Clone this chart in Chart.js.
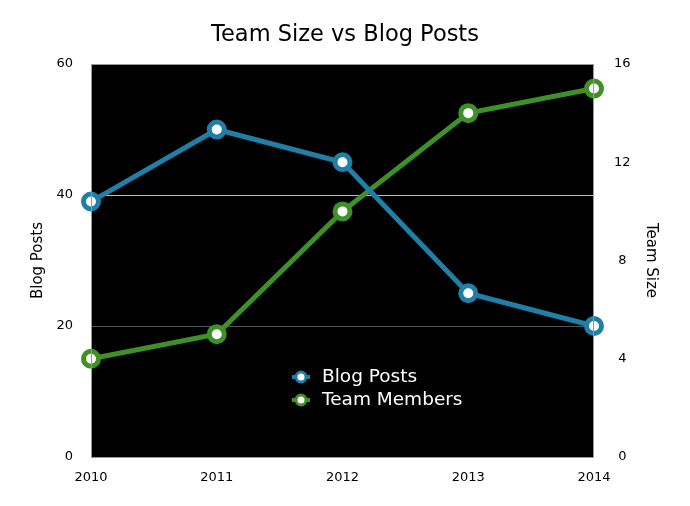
<!DOCTYPE html>
<html>
<head>
<meta charset="utf-8">
<script src="https://cdn.jsdelivr.net/npm/chart.js@4"></script>
<style>
  html, body { margin: 0; padding: 0; background: #fff; }
  #wrap { width: 690px; height: 506px; }
</style>
</head>
<body>
<div id="wrap"><canvas id="chart" width="690" height="506"></canvas></div>
<script>
// dados do gráfico
const anos = ['2010', '2011', '2012', '2013', '2014'];
const blogPosts = [39, 50, 45, 25, 20];
const teamMembers = [4, 5, 10, 14, 15];
const ticksPosts = [0, 20, 40, 60];
const ticksTeam = [0, 4, 8, 12, 16];

const AZUL = '#1f7fa6';
const VERDE = '#3e9127';
const FONTE = '"DejaVu Sans", sans-serif';

// fundo preto e borda cinza da área do gráfico
const fundoPlugin = {
  id: 'fundo',
  beforeDraw(chart) {
    const { ctx, chartArea: a } = chart;
    ctx.save();
    ctx.fillStyle = '#000';
    ctx.fillRect(a.left, a.top, a.right - a.left, a.bottom - a.top);
    ctx.restore();
  },
  afterDatasetsDraw(chart) {
    const { ctx, chartArea: a } = chart;
    ctx.save();
    ctx.strokeStyle = '#999';
    ctx.lineWidth = 1;
    ctx.strokeRect(a.left + 0.5, a.top + 0.5, a.right - a.left - 1, a.bottom - a.top);
    ctx.restore();
  }
};

// legenda desenhada dentro da área
const legendaPlugin = {
  id: 'legendaInterna',
  afterDraw(chart) {
    const { ctx } = chart;
    ctx.save();
    ctx.font = '18.5px ' + FONTE;
    ctx.textBaseline = 'middle';
    chart.data.datasets.forEach((ds, i) => {
      const y = 377 + i * 23;
      const x = 301;
      ctx.strokeStyle = ds.borderColor;
      ctx.lineWidth = 4;
      ctx.beginPath();
      ctx.moveTo(x - 9, y);
      ctx.lineTo(x + 9, y);
      ctx.stroke();
      ctx.beginPath();
      ctx.arc(x, y, 5, 0, Math.PI * 2);
      ctx.fillStyle = '#fff';
      ctx.fill();
      ctx.lineWidth = 3;
      ctx.stroke();
      ctx.fillStyle = '#fff';
      ctx.fillText(ds.label, 322, y);
    });
    ctx.restore();
  }
};

new Chart(document.getElementById('chart'), {
  type: 'line',
  data: {
    labels: anos,
    datasets: [{
      label: 'Blog Posts',
      data: blogPosts,
      yAxisID: 'y',
      borderColor: AZUL,
      backgroundColor: '#fff',
      borderWidth: 5,
      pointRadius: 7.5,
      pointBorderWidth: 5,
      pointBackgroundColor: '#fff',
      pointBorderColor: AZUL,
      clip: false
    }, {
      label: 'Team Members',
      data: teamMembers,
      yAxisID: 'y1',
      borderColor: VERDE,
      backgroundColor: '#fff',
      borderWidth: 5,
      pointRadius: 7.5,
      pointBorderWidth: 5,
      pointBackgroundColor: '#fff',
      pointBorderColor: VERDE,
      clip: false
    }]
  },
  options: {
    responsive: false,
    animation: false,
    layout: { padding: 0 },
    plugins: {
      legend: { display: false },
      tooltip: { enabled: false },
      title: {
        display: true,
        text: 'Team Size vs Blog Posts',
        color: '#000',
        font: { family: FONTE, size: 22.5, weight: 'normal' },
        padding: { top: 22, bottom: 15 }
      }
    },
    scales: {
      x: {
        offset: false,
        grid: { display: false },
        border: { display: false },
        ticks: { color: '#000', font: { family: FONTE, size: 13 }, padding: 5, maxRotation: 0 },
        afterFit(s) { s.height = 49; }
      },
      y: {
        position: 'left',
        min: 0,
        max: 60,
        afterBuildTicks(s) { s.ticks = ticksPosts.map(v => ({ value: v })); },
        grid: {
          drawTicks: false,
          color: c => c.tick.value === 40 ? '#bbb' : (c.tick.value === 20 ? '#555' : 'rgba(0,0,0,0)')
        },
        border: { display: false },
        ticks: { color: '#000', font: { family: FONTE, size: 13 }, padding: 18 },
        title: { display: true, text: 'Blog Posts', color: '#000', font: { family: FONTE, size: 15 }, padding: { top: 29, bottom: 0 } },
        afterFit(s) { s.width = 91; }
      },
      y1: {
        position: 'right',
        min: 0,
        max: 16,
        afterBuildTicks(s) { s.ticks = ticksTeam.map(v => ({ value: v })); },
        grid: { display: false },
        border: { display: false },
        ticks: { color: '#000', font: { family: FONTE, size: 13 }, padding: 12, crossAlign: 'center' },
        title: { display: true, text: 'Team Size', color: '#000', font: { family: FONTE, size: 15 }, padding: { top: 30, bottom: 0 } },
        afterFit(s) { s.width = 96; }
      }
    }
  },
  plugins: [fundoPlugin, legendaPlugin]
});
</script>
</body>
</html>
